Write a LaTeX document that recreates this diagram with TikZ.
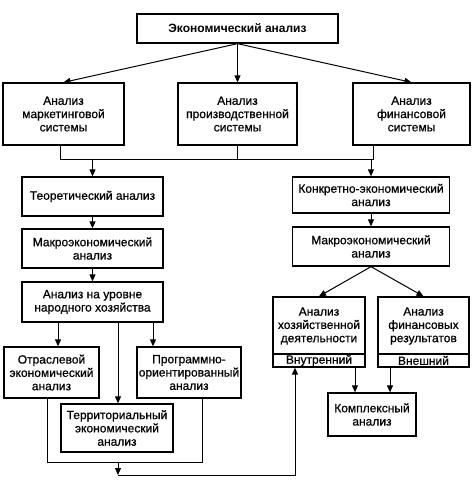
\documentclass[tikz,border=0pt]{standalone}
\usepackage{fontspec}
\setmainfont{Liberation Sans}
\newfontfamily\medf[FakeBold=0.7]{Liberation Sans}
\usetikzlibrary{arrows.meta}
\begin{document}
\begin{tikzpicture}[x=1pt,y=-1pt,
  box/.style={draw,line width=1.3pt,inner sep=0pt,align=center,font=\medf\fontsize{12}{13.3}\selectfont},
  sz/.style 2 args={minimum width=#1pt,minimum height=#2pt},
  txt/.style={inner sep=0pt,align=center,font=\medf\fontsize{12}{13.3}\selectfont},
  arr/.style={line width=1pt,-{Triangle[length=7pt,width=6pt]}},
  ln/.style={line width=1pt},
  divl/.style={line width=1.1pt}]
\useasboundingbox (0,0) rectangle (474,480);

% boxes
\node[box,sz={201}{29},font=\bfseries\fontsize{12}{13}\selectfont] (top) at (237.5,28.5) {Экономический анализ};
\node[box,sz={121}{62}] (mark) at (63.5,114) {Анализ\\маркетинговой\\системы};
\node[box,sz={119}{62}] (prod) at (237.5,114) {Анализ\\производственной\\системы};
\node[box,sz={117}{62}] (fin) at (411.5,114) {Анализ\\финансовой\\системы};

\node[box,sz={141}{39}] (teor) at (92.5,196.5) {Теоретический анализ};
\node[box,sz={141}{39}] (macroL) at (92.5,248.5) {Макроэкономический\\анализ};
\node[box,sz={141}{40}] (nar) at (92.5,302) {Анализ на уровне\\народного хозяйства};
\node[box,sz={95}{51}] (otr) at (51.5,372.5) {Отраслевой\\экономический\\анализ};
\node[box,sz={104}{51}] (prog) at (189,372.5) {Программно-\\ориентированный\\анализ};
\node[box,sz={112}{48}] (terr) at (117,428) {Территориальный\\экономический\\анализ};

\node[box,sz={157}{36}] (konk) at (371,195) {Конкретно-экономический\\анализ};
\node[box,sz={157}{39}] (macroR) at (371,246.5) {Макроэкономический\\анализ};

\node[box,sz={92}{70}] (hoz) at (319,332) {};
\node[txt] (hozT) at (319,326) {Анализ\\хозяйственной\\деятельности};
\node[txt] (hozB) at (319,360.5) {Внутренний};
\node[box,sz={91}{70}] (finres) at (423.5,332) {};
\node[txt] (finresT) at (423.5,326) {Анализ\\финансовых\\результатов};
\node[txt] (finresB) at (423.5,360.5) {Внешний};
\node[box,sz={88}{43}] (kompl) at (372,414.5) {Комплексный\\анализ};

% helper coordinates
\coordinate (dv) at (0,354);
\coordinate (busL) at (60,159);
\coordinate (busR) at (373,159);
\coordinate (xotr) at (58,0);
\coordinate (xprog) at (153,0);
\coordinate (xoL) at (47,0);
\coordinate (xoR) at (202,0);
\coordinate (yb1) at (0,462);
\coordinate (xm) at (118,0);
\coordinate (yb2) at (0,475);
\coordinate (xh) at (295,0);
\coordinate (xk1) at (355,0);
\coordinate (xk2) at (390,0);

% dividers
\draw[divl] (hoz.west |- dv) -- (hoz.east |- dv);
\draw[divl] (finres.west |- dv) -- (finres.east |- dv);

% connectors
\draw[arr] (top.south) -- (mark.north);
\draw[arr] (top.south) -- (prod.north);
\draw[arr] (top.south) -- (fin.north);

\draw[ln] (mark.south -| busL) -- (busL) -- (busR) -- (fin.south -| busR);
\draw[ln] (prod.south) -- (prod.south |- busL);
\draw[arr] (teor.north |- busL) -- (teor.north);
\draw[arr] (konk.north |- busL) -- (konk.north);

\draw[arr] (teor.south) -- (macroL.north);
\draw[arr] (macroL.south) -- (nar.north);
\draw[arr] (nar.south -| xotr) -- (otr.north -| xotr);
\draw[arr] (nar.south -| xm) -- (terr.north -| xm);
\draw[arr] (nar.south -| xprog) -- (prog.north -| xprog);

\draw[ln] (otr.south -| xoL) -- (xoL |- yb1) -- (xoR |- yb1) -- (prog.south -| xoR);
\draw[arr] (xm |- yb1) -- (xm |- yb2);
\draw[arr] (xm |- yb2) -- (xh |- yb2) -- (hoz.south -| xh);

\draw[arr] (konk.south) -- (macroR.north);
\draw[arr] (macroR.south) -- (hoz.north);
\draw[arr] (macroR.south) -- (finres.north);
\draw[arr] (hoz.south -| xk1) -- (kompl.north -| xk1);
\draw[arr] (finres.south -| xk2) -- (kompl.north -| xk2);
\end{tikzpicture}
\end{document}
